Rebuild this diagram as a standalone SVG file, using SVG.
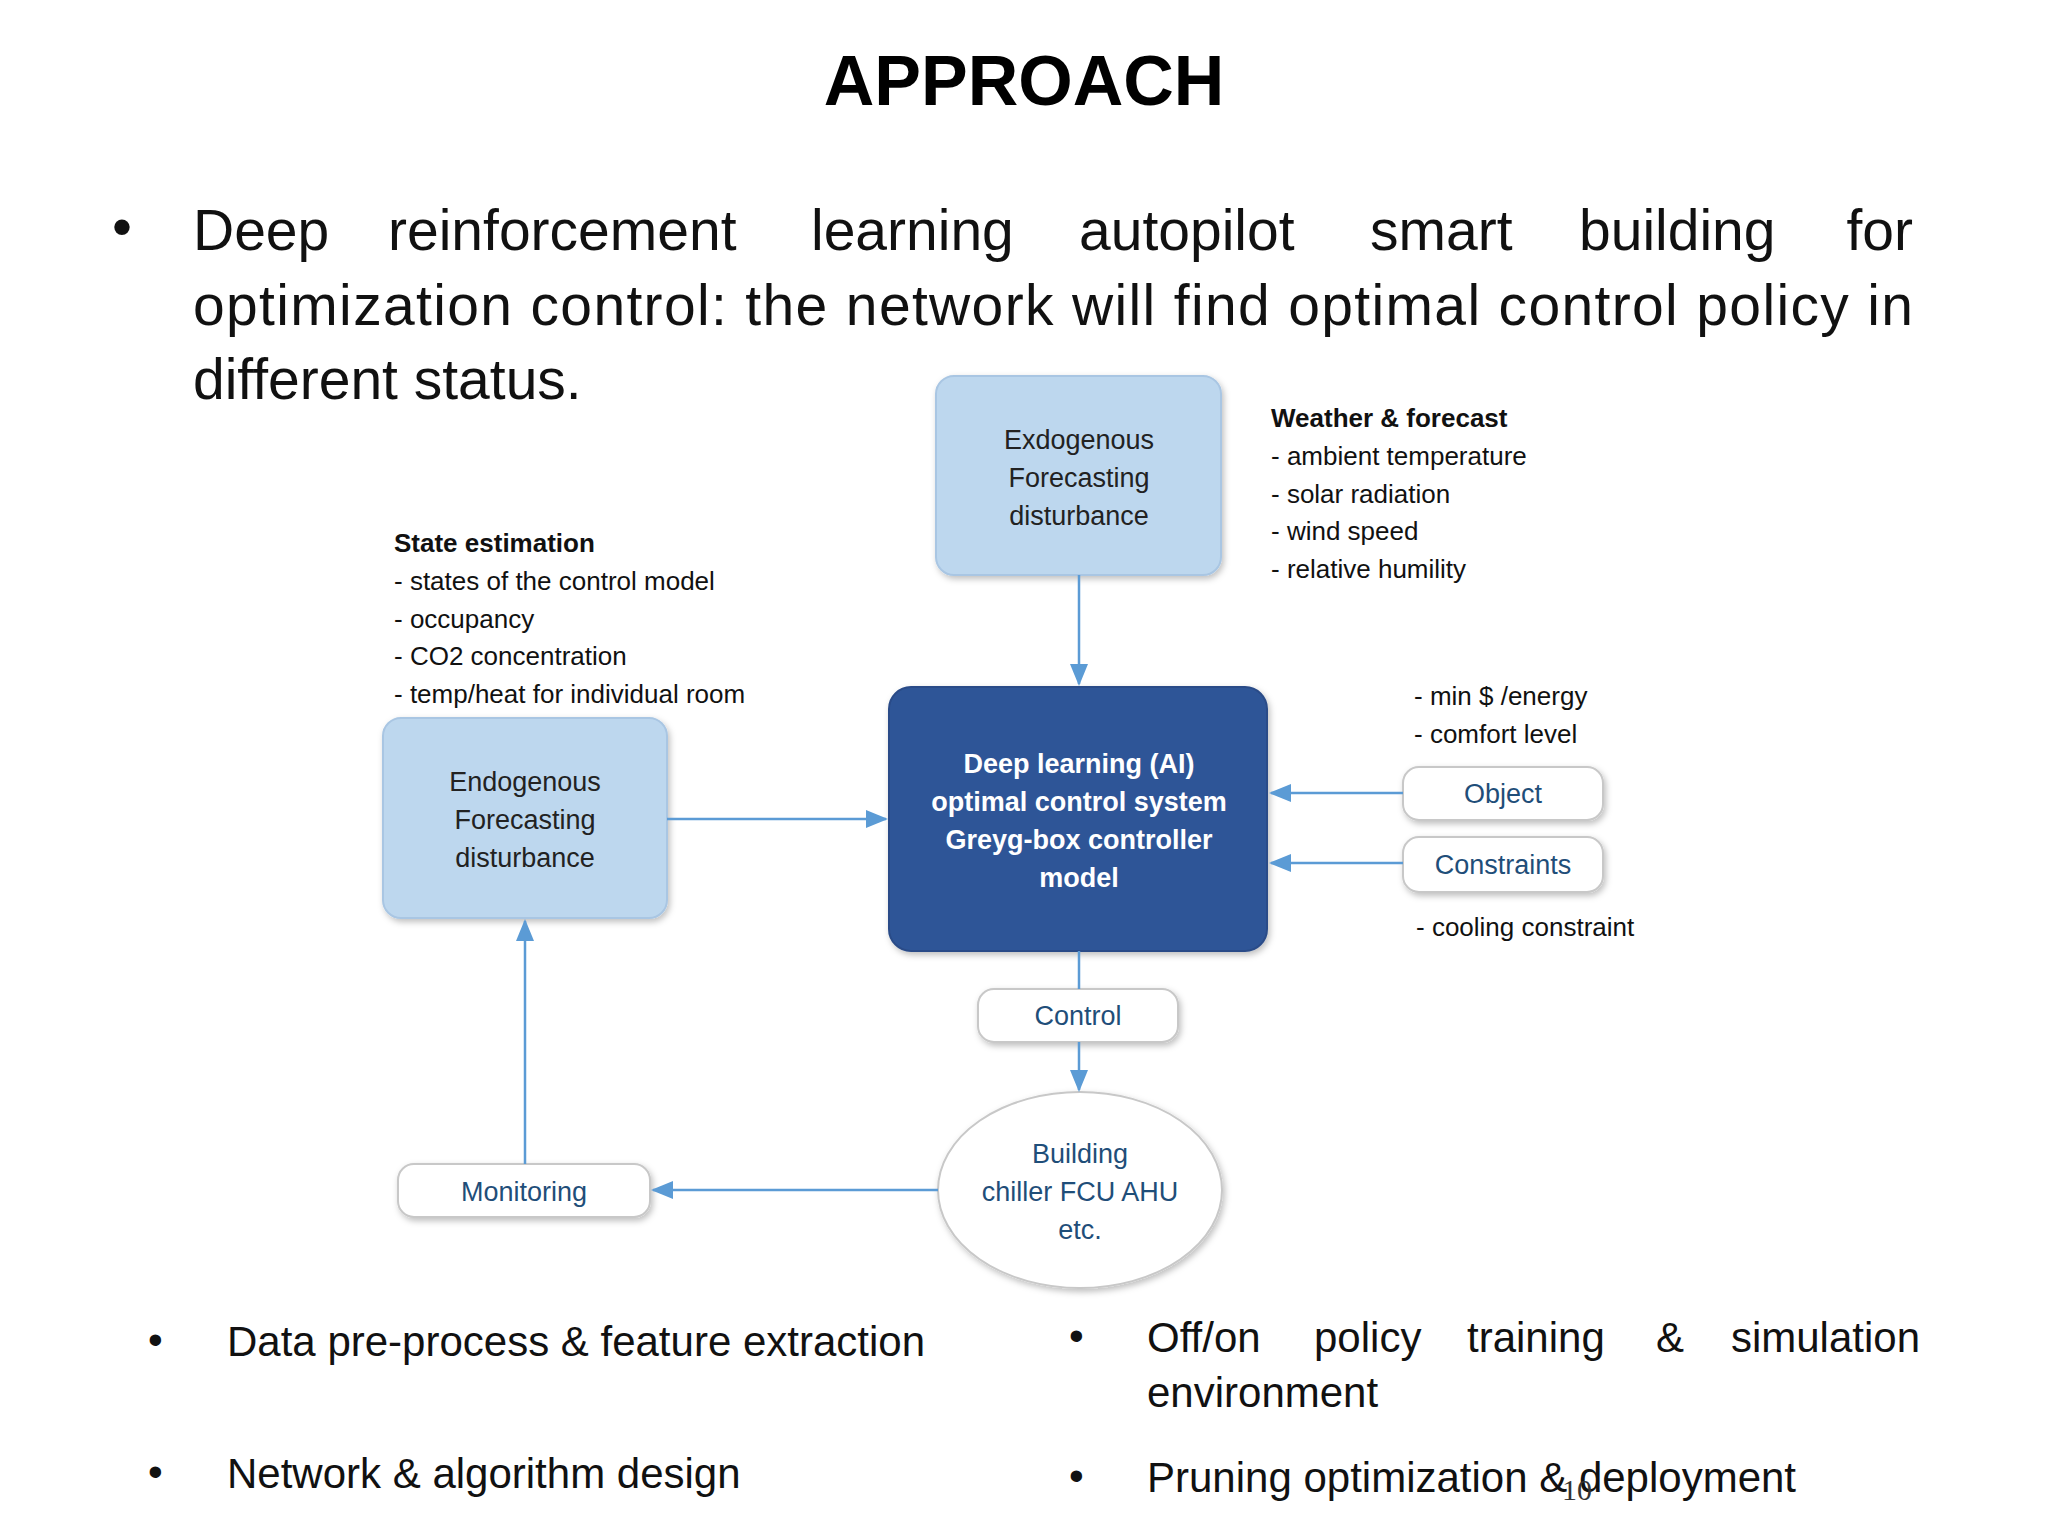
<svg xmlns="http://www.w3.org/2000/svg" width="2048" height="1536" viewBox="0 0 2048 1536">
<defs>
<marker id="ah" markerWidth="22" markerHeight="22" refX="20" refY="11" orient="auto" markerUnits="userSpaceOnUse" viewBox="0 0 22 22"><path d="M0,2 L22,11 L0,20 z" fill="#5B9BD5"/></marker>
<filter id="sh" x="-10%" y="-10%" width="130%" height="130%"><feDropShadow dx="2" dy="3" stdDeviation="3" flood-color="#000" flood-opacity="0.25"/></filter>
</defs>
<style>
text{font-family:"Liberation Sans",Arial,sans-serif;fill:#000}
.lb{fill:#BDD7EE;stroke:#A9C6E3;stroke-width:2;filter:url(#sh)}
.wb{fill:#fff;stroke:#C8C8C8;stroke-width:2;filter:url(#sh)}
.n{font-size:27px;text-anchor:middle;fill:#222}
.b{font-size:27px;text-anchor:middle;fill:#1F4E79}
.s{font-size:26px;fill:#111}
.c{stroke:#5B9BD5;stroke-width:2.5;fill:none;marker-end:url(#ah)}
.big{font-size:57px;fill:#111}
.bot{font-size:42px;fill:#111}
</style>
<rect width="2048" height="1536" fill="#fff"/>
<text x="1024" y="105" font-size="70" font-weight="bold" text-anchor="middle">APPROACH</text>
<text x="112" y="246" class="big">•</text>
<g class="big"><text x="193" y="250" class="big">Deep</text><text x="388" y="250" class="big">reinforcement</text><text x="811" y="250" class="big">learning</text><text x="1079" y="250" class="big">autopilot</text><text x="1370" y="250" class="big">smart</text><text x="1579" y="250" class="big">building</text><text x="1913" y="250" class="big" text-anchor="end">for</text></g>
<text x="193" y="325" class="big" textLength="1720" lengthAdjust="spacing">optimization control: the network will find optimal control policy in</text>
<text x="193" y="399" class="big">different status.</text>

<g id="exo"><rect class="lb" x="936" y="376" width="285" height="199" rx="18"/>
<text class="n" x="1079" y="449">Exdogenous</text><text class="n" x="1079" y="487">Forecasting</text><text class="n" x="1079" y="525">disturbance</text></g>
<g id="weather"><text class="s" x="1271" y="427" font-weight="bold">Weather &amp; forecast</text>
<text class="s" x="1271" y="465">- ambient temperature</text><text class="s" x="1271" y="503">- solar radiation</text><text class="s" x="1271" y="540">- wind speed</text><text class="s" x="1271" y="578">- relative humility</text></g>
<g id="state"><text class="s" x="394" y="552" font-weight="bold">State estimation</text>
<text class="s" x="394" y="590">- states of the control model</text><text class="s" x="394" y="628">- occupancy</text><text class="s" x="394" y="665">- CO2 concentration</text><text class="s" x="394" y="703">- temp/heat for individual room</text></g>
<g id="endo"><rect class="lb" x="383" y="718" width="284" height="200" rx="18"/>
<text class="n" x="525" y="791">Endogenous</text><text class="n" x="525" y="829">Forecasting</text><text class="n" x="525" y="867">disturbance</text></g>
<g id="dl"><rect x="889" y="687" width="378" height="264" rx="22" fill="#2F5597" stroke="#2A4C88" stroke-width="2" filter="url(#sh)"/>
<g font-weight="bold" font-size="27" text-anchor="middle"><text x="1079" y="773" style="fill:#fff">Deep learning (AI)</text><text x="1079" y="811" style="fill:#fff">optimal control system</text><text x="1079" y="849" style="fill:#fff">Greyg-box controller</text><text x="1079" y="887" style="fill:#fff">model</text></g></g>
<g id="objtext"><text class="s" x="1414" y="705">- min $ /energy</text><text class="s" x="1414" y="743">- comfort level</text><text class="s" x="1416" y="936">- cooling constraint</text></g>
<g id="object"><rect class="wb" x="1403" y="767" width="200" height="53" rx="16"/><text class="b" x="1503" y="803">Object</text></g>
<g id="constraints"><rect class="wb" x="1403" y="837" width="200" height="55" rx="16"/><text class="b" x="1503" y="874">Constraints</text></g>
<g id="control"><rect class="wb" x="978" y="989" width="200" height="53" rx="16"/><text class="b" x="1078" y="1025">Control</text></g>
<g id="building"><ellipse cx="1080" cy="1190" rx="142" ry="98" fill="#fff" stroke="#C8C8C8" stroke-width="2" filter="url(#sh)"/>
<text class="b" x="1080" y="1163">Building</text><text class="b" x="1080" y="1201">chiller FCU AHU</text><text class="b" x="1080" y="1239">etc.</text></g>
<g id="monitoring"><rect class="wb" x="398" y="1164" width="252" height="53" rx="16"/><text class="b" x="524" y="1201">Monitoring</text></g>
<g id="connectors">
<line class="c" x1="1079" y1="575" x2="1079" y2="684"/>
<line class="c" x1="667" y1="819" x2="886" y2="819"/>
<line class="c" x1="1403" y1="793" x2="1271" y2="793"/>
<line class="c" x1="1403" y1="863" x2="1271" y2="863"/>
<line x1="1079" y1="951" x2="1079" y2="989" stroke="#5B9BD5" stroke-width="2.5"/>
<line class="c" x1="1079" y1="1042" x2="1079" y2="1090"/>
<line class="c" x1="938" y1="1190" x2="653" y2="1190"/>
<line class="c" x1="525" y1="1164" x2="525" y2="921"/>
</g>
<text x="148" y="1354" class="bot">•</text><text x="227" y="1356" class="bot">Data pre-process &amp; feature extraction</text>
<text x="148" y="1486" class="bot">•</text><text x="227" y="1488" class="bot">Network &amp; algorithm design</text>
<text x="1069" y="1350" class="bot">•</text>
<text x="1147" y="1352" class="bot">Off/on</text><text x="1314" y="1352" class="bot">policy</text><text x="1467" y="1352" class="bot">training</text><text x="1656" y="1352" class="bot">&amp;</text><text x="1920" y="1352" class="bot" text-anchor="end">simulation</text>
<text x="1147" y="1407" class="bot">environment</text>
<text x="1069" y="1490" class="bot">•</text><text x="1147" y="1492" class="bot">Pruning optimization &amp; deployment</text>
<text x="1562" y="1500" font-size="30" style="font-family:'Liberation Serif',serif;fill:#333">10</text>
</svg>
